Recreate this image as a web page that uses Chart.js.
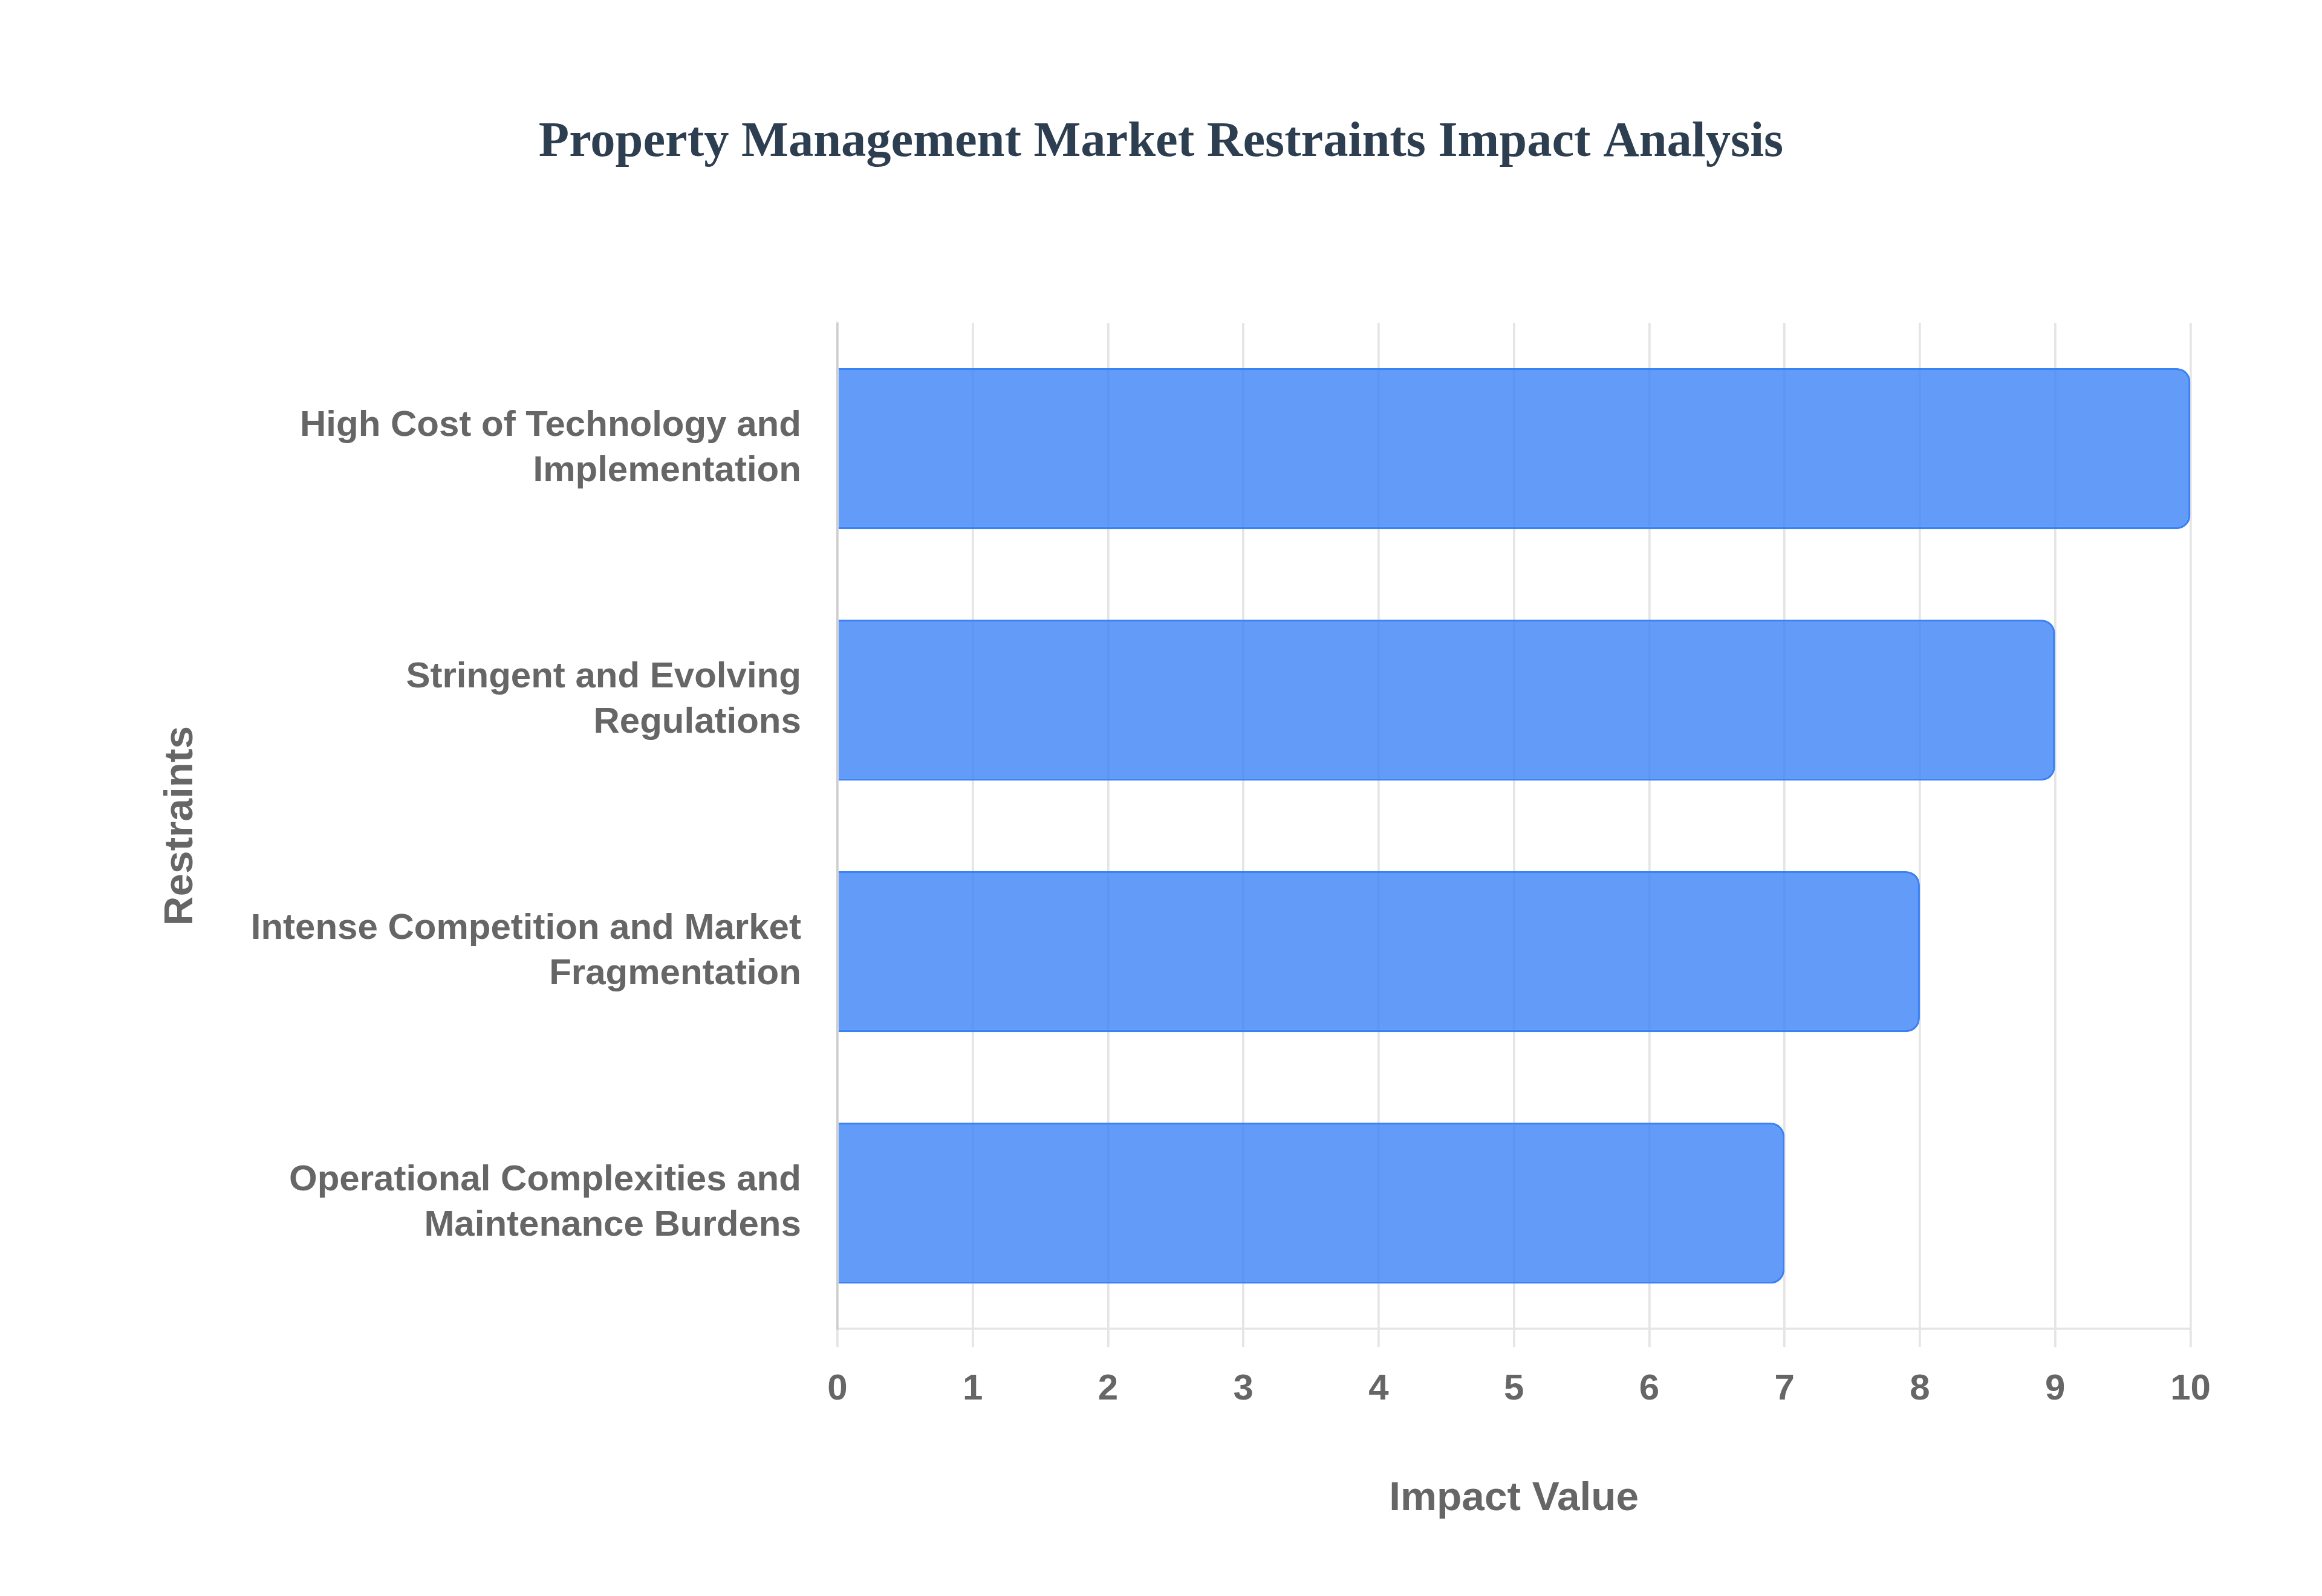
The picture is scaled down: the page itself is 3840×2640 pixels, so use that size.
<!DOCTYPE html>
<html>
<head>
<meta charset="utf-8">
<script src="https://cdn.jsdelivr.net/npm/chart.js@4.4.1/dist/chart.umd.min.js"></script>
<style>
  html, body { margin: 0; padding: 0; background: #ffffff; }
  #page { width: 3840px; height: 2640px; position: relative; overflow: hidden; }
  #wrap { position: absolute; left: 0; top: 0; width: 1024px; height: 704px; transform: scale(3.75); transform-origin: 0 0; }
</style>
</head>
<body>
<div id="page"><div id="wrap"><canvas id="chart" width="1024" height="704"></canvas></div></div>
<script>
// restraints (two-line labels as in the picture)
const restraints = [
  ['High Cost of Technology and', 'Implementation'],
  ['Stringent and Evolving', 'Regulations'],
  ['Intense Competition and Market', 'Fragmentation'],
  ['Operational Complexities and', 'Maintenance Burdens']
]
const impactValues = [10, 9, 8, 7]
const impactTicks = [0, 1, 2, 3, 4, 5, 6, 7, 8, 9, 10]

const sans = 'Arial, "Liberation Sans", Helvetica, sans-serif'
const serif = '"Times New Roman", "Liberation Serif", Times, serif'

const ctx = document.getElementById('chart').getContext('2d')
const chart = new Chart(ctx, {
  type: 'bar',
  data: {
    labels: restraints,
    datasets: [
      {
        label: 'Impact Value',
        data: impactValues,
        backgroundColor: 'rgba(59, 130, 246, 0.8)',
        borderColor: 'rgba(59, 130, 246, 1)',
        borderWidth: 1,
        borderRadius: 6,
        barPercentage: 0.8,
        categoryPercentage: 0.8
      }
    ]
  },
  options: {
    indexAxis: 'y',
    responsive: false,
    animation: false,
    devicePixelRatio: 3.75,
    layout: {
      padding: { top: 20, right: 58, bottom: 20, left: 58 }
    },
    scales: {
      x: {
        min: impactTicks[0],
        max: impactTicks[impactTicks.length - 1],
        ticks: {
          stepSize: 1,
          padding: 9,
          color: '#666666',
          font: { family: sans, size: 16, weight: 'bold' }
        },
        grid: {
          color: 'rgba(0, 0, 0, 0.1)',
          tickLength: 8
        },
        title: {
          display: true,
          text: 'Impact Value',
          color: '#666666',
          padding: { top: 19, bottom: 12 },
          font: { family: sans, size: 18, weight: 'bold' }
        }
      },
      y: {
        ticks: {
          padding: 16,
          color: '#666666',
          font: { family: sans, size: 16, weight: 'bold', lineHeight: 1.25 }
        },
        grid: {
          display: false,
          drawTicks: false
        },
        title: {
          display: true,
          text: 'Restraints',
          color: '#666666',
          padding: { top: 11, bottom: 4 },
          font: { family: sans, size: 18, weight: 'bold' }
        }
      }
    },
    plugins: {
      legend: { display: false },
      tooltip: { enabled: false },
      title: {
        display: true,
        text: 'Property Management Market Restraints Impact Analysis',
        color: '#2c3e50',
        padding: { top: 30, bottom: 66 },
        font: { family: serif, size: 22, weight: 'bold' }
      }
    }
  }
})
</script>
</body>
</html>
